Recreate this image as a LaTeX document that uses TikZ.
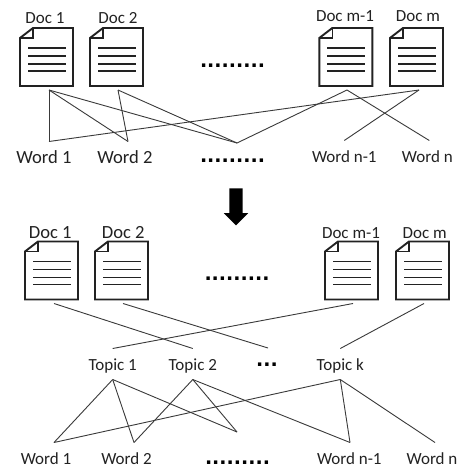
\documentclass[tikz,border=0pt]{standalone}
\usepackage{fontspec}
\setmainfont{Carlito}
\newfontfamily\dotfont{DejaVu Sans}
\usetikzlibrary{shapes.arrows}
\definecolor{inkcol}{HTML}{222222}
\definecolor{linkcol}{HTML}{3A3A3A}
\tikzset{
  docicon/.pic={
    \node[minimum width=53pt,minimum height=58pt,inner sep=0pt,outer sep=4pt] (box) {};
    \draw[inkcol,line width=1.9pt,line join=miter] (-13.5,-29) -- (26.5,-29) -- (26.5,29) -- (-26.5,29) -- (-26.5,-19) -- cycle;
    \draw[inkcol,line width=1.4pt] (-13.5,-29) -- (-13.5,-19) -- (-26.5,-19);
    \draw[inkcol,line width=1.5pt] (-18.5,-9) -- (19.5,-9) (-18.5,-1) -- (19.5,-1) (-18.5,7) -- (19.5,7) (-18.5,14) -- (19.5,14);
  },
  lab/.style={inner sep=0pt,outer ysep=9.5pt,outer xsep=0pt,text=inkcol,font=\fontsize{17}{20}\selectfont,text height=12pt,text depth=0pt},
  biglab/.style={lab,font=\fontsize{18.6}{20}\selectfont},
  dots/.style={inner sep=0pt,anchor=base,text=black,font=\dotfont\bfseries\fontsize{19}{19}\selectfont},
  link/.style={linkcol,line width=0.9pt}
}
\begin{document}
\begin{tikzpicture}[x=1pt,y=-1pt]
\useasboundingbox (0,0) rectangle (474,474);
\fill[white] (0,0) rectangle (474,474);
\pic (d1) at (46.5,57) {docicon};
\pic (d2) at (116.5,57) {docicon};
\pic (dm1) at (345.8,57) {docicon};
\pic (dm) at (416.5,57) {docicon};
\node[lab] (dl1) at (45,17) {Doc 1};
\node[lab] (dl2) at (118,17) {Doc 2};
\node[lab] (dlm1) at (345,15) {Doc m-1};
\node[lab] (dlm) at (418,15) {Doc m};
\node[dots] (ddots) at (232.5,67) {.........};
\node[biglab] (w1) at (44,157) {Word 1};
\node[biglab] (w2) at (125,157) {Word 2};
\node[dots] (wdots) at (232.5,162) {.........};
\node[lab] (wn1) at (344.3,156) {Word n-1};
\node[lab] (wn) at (427.3,156) {Word n};
\coordinate (wv) at (237,143);
\draw[link] ([xshift=2.5pt]d1box.south) -- ([xshift=5pt]w1.north);
\draw[link] ([xshift=2.5pt]d1box.south) -- ([xshift=3pt]w2.north);
\draw[link] ([xshift=2.5pt]d1box.south) -- (wv);
\draw[link] ([xshift=1.5pt]d2box.south) -- ([xshift=3pt]w2.north);
\draw[link] ([xshift=1.5pt]d2box.south) -- (wv);
\draw[link] ([xshift=1.2pt]dm1box.south) -- (wv);
\draw[link] ([xshift=1.2pt]dm1box.south) -- ([xshift=2pt]wn.north);
\draw[link] ([xshift=2.5pt]dmbox.south) -- (wn1.north);
\draw[link] ([xshift=2.5pt]dmbox.south) -- ([xshift=5pt]w1.north);
\node[single arrow,fill=black,inner xsep=0pt,inner ysep=6.5pt,minimum height=37pt,minimum width=24pt,single arrow head extend=5.5pt,rotate=-90] (down) at (236,203.5) {};
\pic (bd1) at (51.5,270.5) {docicon};
\pic (bd2) at (121.5,270.5) {docicon};
\pic (bdm1) at (351.5,270.5) {docicon};
\pic (bdm) at (422.5,270.5) {docicon};
\node[biglab] (bdl1) at (50.3,232) {Doc 1};
\node[biglab] (bdl2) at (123.3,232) {Doc 2};
\node[lab] (bdlm1) at (351,232) {Doc m-1};
\node[lab] (bdlm) at (424.7,232) {Doc m};
\node[dots] (bddots) at (237,280) {.........};
\node[lab] (t1) at (112.7,364) {Topic 1};
\node[lab] (t2) at (192.8,364) {Topic 2};
\node[dots] (tdots) at (267,366) {...};
\node[lab] (tk) at (340.3,364) {Topic k};
\coordinate (tv) at (268,348);
\draw[link] ([xshift=2.5pt]bd1box.south) -- (t2.north);
\draw[link] ([xshift=1.5pt]bd2box.south) -- (tv);
\draw[link] ([xshift=1.5pt]bdm1box.south) -- (t1.north);
\draw[link] ([xshift=1.5pt]bdmbox.south) -- (tk.north);
\node[lab] (bw1) at (46,458) {Word 1};
\node[lab] (bw2) at (126.5,458) {Word 2};
\node[dots] (bwdots) at (237.5,464) {.........};
\node[lab] (bwn1) at (349.3,458) {Word n-1};
\node[lab] (bwn) at (432,458) {Word n};
\coordinate (bv) at (237,432);
\draw[link] (t1.south) -- ([xshift=8pt]bw1.north);
\draw[link] (t1.south) -- ([xshift=7.5pt]bw2.north);
\draw[link] (t1.south) -- (bv);
\draw[link] (t2.south) -- ([xshift=7.5pt]bw2.north);
\draw[link] (t2.south) -- (bv);
\draw[link] (t2.south) -- ([xshift=0.7pt]bwn1.north);
\draw[link] (tk.south) -- ([xshift=8pt]bw1.north);
\draw[link] (tk.south) -- ([xshift=0.7pt]bwn1.north);
\draw[link] (tk.south) -- ([xshift=3pt]bwn.north);
\end{tikzpicture}
\end{document}
